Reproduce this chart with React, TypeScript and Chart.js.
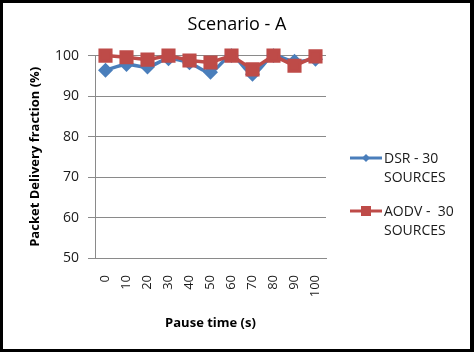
import { useEffect, useRef } from 'react';
import { Chart, registerables } from 'chart.js';

Chart.register(...registerables);

const pauseTimes = ['0', '10', '20', '30', '40', '50', '60', '70', '80', '90', '100'];
const dsrValues = [96.4, 97.8, 97.2, 99.2, 98.2, 95.9, 100, 95.4, 100, 98.6, 99.1];
const aodvValues = [100, 99.6, 99.0, 100, 98.8, 98.3, 100, 96.6, 100, 97.5, 99.8];
const dsrLabel = ['DSR - 30', 'SOURCES'];
const aodvLabel = ['AODV -  30', 'SOURCES'];
const chartTitle = 'Scenario - A';
const yMin = 50;
const yMax = 100;
const yStep = 10;

const FONT = '"Open Sans", "Noto Sans", sans-serif';

const framePlugin = {
  id: 'frame',
  beforeDraw(chart: any) {
    const { ctx, width, height } = chart;
    ctx.save();
    ctx.fillStyle = '#000';
    ctx.fillRect(0, 0, width, height);
    ctx.fillStyle = '#fff';
    ctx.fillRect(3, 3, width - 7, height - 6);
    ctx.restore();
  },
};

const overlayPlugin = {
  id: 'overlay',
  afterDraw(chart: any) {
    const ctx = chart.ctx;
    ctx.save();
    ctx.fillStyle = '#000';
    ctx.font = `18px ${FONT}`;
    ctx.textAlign = 'center';
    ctx.textBaseline = 'middle';
    ctx.fillText(chartTitle, chart.width / 2, 25);

    chart.data.datasets.forEach((ds: any, i: number) => {
      const ly = 158 + i * 53;
      ctx.strokeStyle = ds.borderColor;
      ctx.lineWidth = 3;
      ctx.beginPath();
      ctx.moveTo(350, ly);
      ctx.lineTo(382, ly);
      ctx.stroke();
      ctx.fillStyle = ds.backgroundColor;
      if (ds.pointStyle === 'rectRot') {
        ctx.beginPath();
        ctx.moveTo(366, ly - 4);
        ctx.lineTo(370, ly);
        ctx.lineTo(366, ly + 4);
        ctx.lineTo(362, ly);
        ctx.closePath();
        ctx.fill();
      } else {
        ctx.fillRect(361, ly - 5, 10, 10);
      }
      ctx.fillStyle = '#1a1a1a';
      ctx.font = `14px ${FONT}`;
      ctx.textBaseline = 'middle';
      ctx.textAlign = 'left';
      (ds.label as string[]).forEach((t: string, j: number) => {
        ctx.fillText(t, 384, ly + 1 + j * 19);
      });
    });
    ctx.restore();
  },
};

export default function App() {
  const ref = useRef<HTMLCanvasElement | null>(null);
  useEffect(() => {
    if (!ref.current) return;
    const chart = new Chart(ref.current, {
      type: 'line',
      data: {
        labels: pauseTimes,
        datasets: [
          {
            label: dsrLabel as any,
            data: dsrValues,
            borderColor: '#4A7EBB',
            backgroundColor: '#4A7EBB',
            borderWidth: 3.5,
            pointStyle: 'rectRot',
            pointRadius: 5,
            pointHoverRadius: 5,
            tension: 0.3,
            order: 1,
            clip: false,
          },
          {
            label: aodvLabel as any,
            data: aodvValues,
            borderColor: '#BE4B48',
            backgroundColor: '#BE4B48',
            borderWidth: 3.5,
            pointStyle: 'rect',
            pointRadius: 7.5,
            pointHoverRadius: 7.5,
            tension: 0,
            order: 0,
            clip: false,
          },
        ],
      },
      options: {
        animation: false,
        responsive: false,
        events: [],
        layout: { padding: { left: 3, top: 3, bottom: 3, right: 148 } },
        plugins: {
          legend: { display: false },
          tooltip: { enabled: false },
          title: {
            display: true,
            text: chartTitle,
            color: 'rgba(0,0,0,0)',
            font: { family: FONT, size: 18, weight: 'normal' },
            padding: { top: 11, bottom: 20 },
          },
        },
        scales: {
          x: {
            offset: true,
            grid: { display: false, drawTicks: false },
            border: { display: true, color: '#8a8a8a' },
            ticks: {
              minRotation: 90,
              maxRotation: 90,
              padding: 17,
              color: '#1a1a1a',
              font: { family: FONT, size: 13 },
            },
            title: {
              display: true,
              text: 'Pause time (s)',
              color: '#000',
              font: { family: FONT, size: 13, weight: 'bold' },
              padding: { top: 0, bottom: 18 },
            },
            afterFit(scale: any) {
              scale.height = 91;
            },
          },
          y: {
            min: yMin,
            max: yMax,
            ticks: {
              stepSize: yStep,
              padding: 9,
              color: '#1a1a1a',
              font: { family: FONT, size: 14 },
            },
            grid: { color: '#8a8a8a', lineWidth: 1, tickLength: 7 },
            border: { display: true, color: '#8a8a8a' },
            title: {
              display: true,
              text: 'Packet Delivery fraction (%)',
              color: '#000',
              font: { family: FONT, size: 13, weight: 'bold' },
              padding: { top: 24, bottom: 0 },
            },
            afterFit(scale: any) {
              scale.width = 92;
            },
          },
        },
      },
      plugins: [framePlugin, overlayPlugin],
    });
    return () => chart.destroy();
  }, []);
  return (
    <div style={{ position: 'fixed', left: 0, top: 0, width: 474, height: 352 }}>
      <canvas ref={ref} width={474} height={352} style={{ display: 'block', width: 474, height: 352 }} />
    </div>
  );
}
